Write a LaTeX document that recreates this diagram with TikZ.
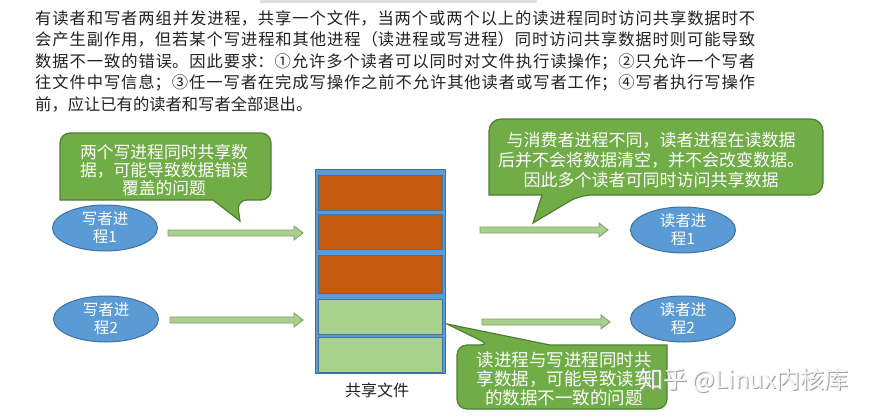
\documentclass[tikz,border=0pt]{standalone}
\usepackage{fontspec}
\setmainfont{Noto Sans CJK SC}
\usetikzlibrary{shapes.geometric,calc}
\XeTeXlinebreaklocale "zh"
\XeTeXlinebreakskip=0pt plus 3pt
\definecolor{calloutfill}{HTML}{70AD47}
\definecolor{calloutdraw}{HTML}{507E32}
\definecolor{ellfill}{HTML}{5B9BD5}
\definecolor{elldraw}{HTML}{41719C}
\definecolor{orangebar}{HTML}{C55A11}
\definecolor{greenbar}{HTML}{A9D18E}
\definecolor{arrowfill}{HTML}{A9D18E}
\definecolor{arrowdraw}{HTML}{7FA06A}
\definecolor{bodytext}{HTML}{222222}
\newcommand\blkarrow[2]{%
  \draw[blockarrow] let \p1=(#1), \p2=(#2) in
    (\x1,\y1+3pt) -- (\x2-9pt,\y1+3pt) -- (\x2-9pt,\y1+7pt) -- (\x2,\y1)
    -- (\x2-9pt,\y1-7pt) -- (\x2-9pt,\y1-3pt) -- (\x1,\y1-3pt) -- cycle;}
\tikzset{
  ell/.style={ellipse, draw=elldraw, fill=ellfill, line width=1pt,
    minimum width=105pt, minimum height=46pt, inner sep=-2pt,
    text=white, align=center, font=\fontsize{15.5pt}{18pt}\selectfont},
  bar/.style={rectangle, draw=elldraw, line width=0.8pt, minimum width=124pt, inner sep=0},
  callout/.style={fill=calloutfill, draw=calloutdraw, line width=1.2pt},
  ctext/.style={text=white, align=center, inner sep=0},
  blockarrow/.style={fill=arrowfill, draw=arrowdraw, line width=0.9pt},
}
\begin{document}
\begin{tikzpicture}[x=1pt,y=-1pt]
\useasboundingbox (0,0) rectangle (878,418);
\fill[white] (0,0) rectangle (878,418);
\fill[gray!25] (260,0) rectangle (537,3);

% intro text
\node[anchor=north west, inner sep=0, text width=720pt, align=justify,
  font=\fontsize{16.3pt}{21.5pt}\selectfont, text=bodytext] (intro) at (35,10)
  {有读者和写者两组并发进程，共享一个文件，当两个或两个以上的读进程同时访问共享数据时不\linebreak
   会产生副作用，但若某个写进程和其他进程（读进程或写进程）同时访问共享数据时则可能导致\linebreak
   数据不一致的错误。因此要求：①允许多个读者可以同时对文件执行读操作；②只允许一个写者\linebreak
   往文件中写信息；③任一写者在完成写操作之前不允许其他读者或写者工作；④写者执行写操作\linebreak
   前，应让已有的读者和写者全部退出。};

% shared file
\node[rectangle, draw=elldraw, fill=ellfill, line width=0.9pt, minimum width=130pt,
  minimum height=204pt, inner sep=0] (file) at (380,271) {};
\node[bar, fill=orangebar, minimum height=35pt] (b1) at (380,192.5) {};
\node[bar, fill=orangebar, minimum height=35pt] (b2) at (380,231.5) {};
\node[bar, fill=orangebar, minimum height=38pt] (b3) at (380,274) {};
\node[bar, fill=greenbar, minimum height=35pt] (b4) at (380,316.5) {};
\node[bar, fill=greenbar, minimum height=35pt] (b5) at (380,354.5) {};
\node[text=bodytext, inner sep=0, font=\fontsize{16pt}{18pt}\selectfont] (flabel) at (377,390) {共享文件};

% callouts
\draw[callout] (60,166) [rounded corners=10pt] -- (60,133) -- (271,133) -- (271,200)
  -- (237,200) [sharp corners] -- (240,221) -- (213,200) -- (60,200)
  [rounded corners=10pt] -- cycle;
\node[ctext, font=\fontsize{16.8pt}{18pt}\selectfont] (c1) at (164,170)
  {两个写进程同时共享数\\据，可能导致数据错误\\覆盖的问题};

\draw[callout] (489,157) [rounded corners=12pt] -- (489,119) -- (823,119) -- (823,195)
  -- (580,195) [sharp corners] -- (533,223) -- (542,195) -- (489,195)
  [rounded corners=12pt] -- cycle;
\node[ctext, font=\fontsize{17pt}{20pt}\selectfont] (c2) at (651,160)
  {与消费者进程不同，读者进程在读数据\\后并不会将数据清空，并不会改变数据。\\因此多个读者可同时访问共享数据};

\draw[callout] (457,377) [rounded corners=10pt] -- (457,345) -- (490,345)
  [sharp corners] -- (447,324) -- (550,345) -- (667,345)
  [rounded corners=10pt] -- (667,409) -- (457,409) -- cycle;
\node[ctext, font=\fontsize{17.5pt}{19pt}\selectfont] (c3) at (564,379)
  {读进程与写进程同时共\\享数据，可能导致读到\\的数据不一致的问题};

% processes
\node[ell] (w1) at (105,228) {写者进\\程1};
\node[ell] (w2) at (106,319) {写者进\\程2};
\node[ell] (r1) at (683,230) {读者进\\程1};
\node[ell] (r2) at (683,319) {读者进\\程2};

% arrows
\coordinate (a1s) at (168,233); \coordinate (a1e) at (303,233);
\coordinate (a2s) at (170,320); \coordinate (a2e) at (303,320);
\coordinate (a3s) at (480,230); \coordinate (a3e) at (608,230);
\coordinate (a4s) at (482,322); \coordinate (a4e) at (610,322);
\blkarrow{a1s}{a1e}
\blkarrow{a2s}{a2e}
\blkarrow{a3s}{a3e}
\blkarrow{a4s}{a4e}

% watermark
\node[text=gray!75, inner sep=0, font=\fontsize{24pt}{26pt}\selectfont] (wmshadow) at (744.8,381) {知乎 @Linux内核库};
\node[text=white!92!gray, inner sep=0, font=\fontsize{24pt}{26pt}\selectfont] (wm) at (744,380) {知乎 @Linux内核库};
\end{tikzpicture}
\end{document}
